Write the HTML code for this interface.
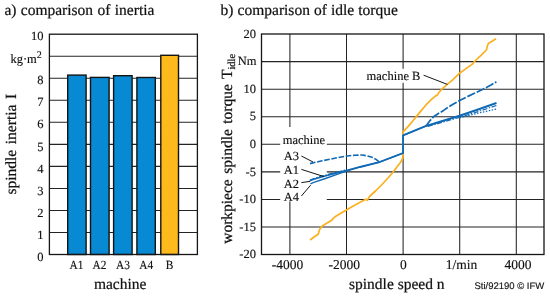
<!DOCTYPE html><html><head><meta charset="utf-8"><title>comparison</title><style>html,body{margin:0;padding:0;background:#fff}svg{display:block}text{font-family:"Liberation Serif",serif;fill:#111;stroke:#111;stroke-width:0.14px}.b{stroke-width:0.22px}.s{font-family:"Liberation Sans",sans-serif}</style></head><body>
<svg width="550" height="296" viewBox="0 0 550 296" text-rendering="geometricPrecision">
<rect width="550" height="296" fill="#fff"/>
<text x="4.4" y="15" class="b" font-size="15.5" word-spacing="0.5">a) comparison of inertia</text>
<text x="220.6" y="15" class="b" font-size="15.5" word-spacing="0.2">b) comparison of idle torque</text>
<line x1="49.4" x2="197.4" y1="56.23" y2="56.23" stroke="#242424" stroke-width="1.05"/>
<line x1="49.4" x2="197.4" y1="78.26" y2="78.26" stroke="#242424" stroke-width="1.05"/>
<line x1="49.4" x2="197.4" y1="100.29" y2="100.29" stroke="#242424" stroke-width="1.05"/>
<line x1="49.4" x2="197.4" y1="122.32" y2="122.32" stroke="#242424" stroke-width="1.05"/>
<line x1="49.4" x2="197.4" y1="144.35" y2="144.35" stroke="#242424" stroke-width="1.05"/>
<line x1="49.4" x2="197.4" y1="166.38" y2="166.38" stroke="#242424" stroke-width="1.05"/>
<line x1="49.4" x2="197.4" y1="188.41" y2="188.41" stroke="#242424" stroke-width="1.05"/>
<line x1="49.4" x2="197.4" y1="210.44" y2="210.44" stroke="#242424" stroke-width="1.05"/>
<line x1="49.4" x2="197.4" y1="232.47" y2="232.47" stroke="#242424" stroke-width="1.05"/>
<rect x="67.70" y="75.10" width="18.40" height="179.40" fill="#078ad3" stroke="#141414" stroke-width="1.4"/>
<rect x="90.50" y="77.40" width="18.60" height="177.10" fill="#078ad3" stroke="#141414" stroke-width="1.4"/>
<rect x="113.60" y="75.70" width="18.50" height="178.80" fill="#078ad3" stroke="#141414" stroke-width="1.4"/>
<rect x="136.90" y="77.50" width="18.40" height="177.00" fill="#078ad3" stroke="#141414" stroke-width="1.4"/>
<rect x="160.80" y="55.30" width="17.70" height="199.20" fill="#feb91c" stroke="#141414" stroke-width="1.4"/>
<rect x="49.4" y="34.2" width="148.0" height="220.3" fill="none" stroke="#161616" stroke-width="1.3"/>
<text x="43.4" y="40.0" font-size="12.5" text-anchor="end">10</text>
<text x="43.4" y="84.2" font-size="12.5" text-anchor="end">8</text>
<text x="43.4" y="106.3" font-size="12.5" text-anchor="end">7</text>
<text x="43.4" y="128.4" font-size="12.5" text-anchor="end">6</text>
<text x="43.4" y="150.5" font-size="12.5" text-anchor="end">5</text>
<text x="43.4" y="172.6" font-size="12.5" text-anchor="end">4</text>
<text x="43.4" y="194.7" font-size="12.5" text-anchor="end">3</text>
<text x="43.4" y="216.8" font-size="12.5" text-anchor="end">2</text>
<text x="43.4" y="238.9" font-size="12.5" text-anchor="end">1</text>
<text x="43.4" y="261.0" font-size="12.5" text-anchor="end">0</text>
<text x="10.4" y="62.7" font-size="12.5">kg·m<tspan dy="-4.5" font-size="10">2</tspan></text>
<text transform="translate(76.4,269.2) scale(0.91,1)" font-size="12.5" text-anchor="middle">A1</text>
<text transform="translate(99.4,269.2) scale(0.91,1)" font-size="12.5" text-anchor="middle">A2</text>
<text transform="translate(123.0,269.2) scale(0.91,1)" font-size="12.5" text-anchor="middle">A3</text>
<text transform="translate(146.2,269.2) scale(0.91,1)" font-size="12.5" text-anchor="middle">A4</text>
<text transform="translate(169.6,269.2) scale(0.91,1)" font-size="12.5" text-anchor="middle">B</text>
<text x="120.2" y="288.5" class="b" font-size="15.5" text-anchor="middle">machine</text>
<text transform="translate(15.8,144.2) rotate(-90)" class="b" font-size="15.5" word-spacing="1.7" text-anchor="middle">spindle inertia I</text>
<line x1="261.5" x2="544" y1="61.61" y2="61.61" stroke="#242424" stroke-width="1.05"/>
<line x1="261.5" x2="544" y1="89.18" y2="89.18" stroke="#242424" stroke-width="1.05"/>
<line x1="261.5" x2="544" y1="116.74" y2="116.74" stroke="#242424" stroke-width="1.05"/>
<line x1="261.5" x2="544" y1="144.30" y2="144.30" stroke="#242424" stroke-width="1.05"/>
<line x1="261.5" x2="544" y1="171.86" y2="171.86" stroke="#242424" stroke-width="1.05"/>
<line x1="261.5" x2="544" y1="199.43" y2="199.43" stroke="#242424" stroke-width="1.05"/>
<line x1="261.5" x2="544" y1="226.99" y2="226.99" stroke="#242424" stroke-width="1.05"/>
<line x1="289.90" x2="289.90" y1="34" y2="254.5" stroke="#242424" stroke-width="1.05"/>
<line x1="346.50" x2="346.50" y1="34" y2="254.5" stroke="#242424" stroke-width="1.05"/>
<line x1="403.10" x2="403.10" y1="34" y2="254.5" stroke="#242424" stroke-width="1.05"/>
<line x1="459.70" x2="459.70" y1="34" y2="254.5" stroke="#242424" stroke-width="1.05"/>
<line x1="516.30" x2="516.30" y1="34" y2="254.5" stroke="#242424" stroke-width="1.05"/>
<rect x="280.2" y="127" width="46.6" height="74.3" fill="#fff"/>
<rect x="365" y="68.8" width="57" height="14" fill="#fff"/>
<rect x="261.5" y="34" width="282.5" height="220.5" fill="none" stroke="#161616" stroke-width="1.3"/>
<path d="M310.0,240.0 L314.0,237.0 L318.2,234.2 L319.6,229.5 L322.0,226.2 L327.0,223.0 L331.5,220.4 L333.0,218.6 L335.0,216.8 L340.0,213.8 L346.4,210.0 L355.0,205.0 L364.0,200.2 L366.0,199.2 L367.5,200.2 L368.5,198.0 L370.0,196.0 L376.0,190.5 L382.0,184.5 L388.0,178.0 L392.4,173.0 L396.0,168.3 L400.0,163.0 L401.8,160.2 L402.9,157.6 L403.1,154.0 L403.1,131.8 L404.5,130.4 L408.9,125.6 L412.5,121.2 L416.5,116.4 L420.4,111.6 L426.2,104.7 L430.7,100.2 L435.6,95.8 L437.2,95.4 L438.3,93.3 L441.6,89.4 L447.2,84.4 L453.0,79.6 L459.6,73.2 L466.0,68.6 L472.0,64.4 L475.0,61.0 L481.0,55.4 L486.4,50.0 L487.2,46.5 L488.4,43.4 L492.0,41.3 L496.0,38.8" fill="none" stroke="#fbb01e" stroke-width="1.7" stroke-linejoin="round" stroke-linecap="butt" />
<path d="M310.0,163.6 L321.0,161.0 L331.0,159.0 L340.0,157.2 L347.0,156.0 L355.0,155.2 L362.0,155.0 L367.0,155.8 L372.0,157.2 L376.0,159.4 L379.5,162.2" fill="none" stroke="#0f69b5" stroke-width="1.6" stroke-linejoin="round" stroke-linecap="butt" stroke-dasharray="5.6 1.7"/>
<path d="M425.8,126.0 L427.5,124.0 L430.0,120.6 L433.5,116.8 L438.0,113.8 L443.6,110.4 L447.0,108.0 L453.0,104.2 L459.6,100.6 L467.0,96.8 L475.0,93.0 L483.0,89.2 L491.0,85.0 L496.4,81.8" fill="none" stroke="#0f69b5" stroke-width="1.7" stroke-linejoin="round" stroke-linecap="butt" stroke-dasharray="8.5 1.8"/>
<path d="M309.8,180.8 L313.0,179.4 L318.0,178.0 L324.0,176.2 L335.0,173.4 L346.4,170.4 L360.0,166.8 L379.5,162.0 L392.0,157.2 L403.1,153.0 L403.1,135.3 L414.0,130.8 L425.5,126.1 L440.0,121.5 L459.6,115.4 L478.0,109.2 L496.4,102.7" fill="none" stroke="#0f69b5" stroke-width="1.6" stroke-linejoin="round" stroke-linecap="butt" />
<path d="M310.4,184.0 L312.5,182.8 L316.0,181.6 L324.0,179.0 L335.0,175.2 L346.4,171.2 L360.0,167.2 L379.5,162.2 L392.0,157.4 L403.1,153.2 L403.1,135.5 L414.0,131.0 L425.5,126.4 L440.0,122.0 L459.6,116.0 L478.0,109.9 L496.4,103.4" fill="none" stroke="#0f69b5" stroke-width="1.4" stroke-linejoin="round" stroke-linecap="butt" />
<path d="M310.0,180.0 L315.0,178.2 L321.0,176.4 L330.0,174.0 L346.4,169.8" fill="none" stroke="#0f69b5" stroke-width="1.3" stroke-linejoin="round" stroke-linecap="butt" stroke-dasharray="5 1.5 1.5 1.5"/>
<path d="M428.0,126.4 L440.0,123.0 L459.6,117.3 L478.0,111.6 L496.4,105.5" fill="none" stroke="#0f69b5" stroke-width="1.2" stroke-linejoin="round" stroke-linecap="butt" stroke-dasharray="5 1.5 1.5 1.5"/>
<path d="M459.6,117.8 L478.0,113.2 L496.4,109.0" fill="none" stroke="#0f69b5" stroke-width="1.2" stroke-linejoin="round" stroke-linecap="butt" stroke-dasharray="1.5 1.5"/>
<line x1="423.6" y1="75.2" x2="447.4" y2="84.4" stroke="#161616" stroke-width="1"/>
<line x1="301.4" y1="156" x2="313" y2="162" stroke="#161616" stroke-width="1"/>
<line x1="301.4" y1="169.4" x2="324" y2="176.6" stroke="#161616" stroke-width="1"/>
<line x1="301.4" y1="182.6" x2="310" y2="181.4" stroke="#161616" stroke-width="1"/>
<line x1="301.4" y1="196" x2="310.6" y2="185.2" stroke="#161616" stroke-width="1"/>
<text x="366.6" y="80" font-size="12.5">machine B</text>
<text x="282.8" y="144" font-size="12.5">machine</text>
<text x="283.8" y="160" font-size="12.5">A3</text>
<text x="283.8" y="174" font-size="12.5">A1</text>
<text x="283.8" y="187.6" font-size="12.5">A2</text>
<text x="283.8" y="201" font-size="12.5">A4</text>
<text x="255.9" y="37.7" font-size="12.5" text-anchor="end">20</text>
<text x="255.9" y="92.8" font-size="12.5" text-anchor="end">10</text>
<text x="255.9" y="120.3" font-size="12.5" text-anchor="end">5</text>
<text x="255.9" y="147.9" font-size="12.5" text-anchor="end">0</text>
<text x="255.9" y="175.5" font-size="12.5" text-anchor="end">-5</text>
<text x="255.9" y="203.0" font-size="12.5" text-anchor="end">-10</text>
<text x="255.9" y="230.6" font-size="12.5" text-anchor="end">-15</text>
<text x="255.9" y="258.2" font-size="12.5" text-anchor="end">-20</text>
<text x="256.6" y="64.7" font-size="12.5" text-anchor="end">Nm</text>
<text x="303.3" y="269.2" font-size="13.5" text-anchor="end">-4000</text>
<text x="359.9" y="269.2" font-size="13.5" text-anchor="end">-2000</text>
<text x="403.4" y="269.2" font-size="13.5" text-anchor="middle">0</text>
<text x="461.6" y="269.2" font-size="13.5" text-anchor="middle">1/min</text>
<text x="518" y="269.2" font-size="13.5" text-anchor="middle">4000</text>
<text x="444.6" y="288.6" class="b" font-size="15.5" text-anchor="end">spindle speed n</text>
<text class="s" x="544.3" y="288.5" font-size="9.5" stroke="none" text-anchor="end">Sti/92190 © IFW</text>
<text transform="translate(231.6,243.8) rotate(-90)" class="b" font-size="15.5" word-spacing="1.5">workpiece spindle torque T<tspan dy="3.4" font-size="10.5">idle</tspan></text>
</svg></body></html>
